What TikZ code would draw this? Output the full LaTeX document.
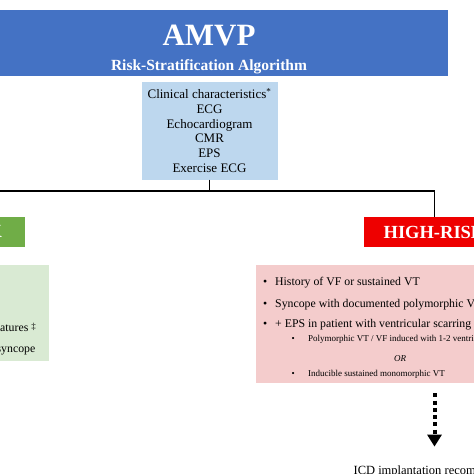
\documentclass[tikz,border=0pt]{standalone}
\usepackage{fontspec}
\setmainfont{Liberation Serif}
\usetikzlibrary{arrows.meta}

\definecolor{bannerblue}{HTML}{4472C4}
\definecolor{testblue}{HTML}{BDD7EE}
\definecolor{lowgreen}{HTML}{70AD47}
\definecolor{lowfill}{HTML}{D9EAD3}
\definecolor{highred}{HTML}{EE0000}
\definecolor{highfill}{HTML}{F4CCCC}

\begin{document}
\begin{tikzpicture}[x=1pt,y=-1pt,
		banner/.style={fill=bannerblue, minimum width=478pt, minimum height=66pt, inner sep=0pt},
		testbox/.style={fill=testblue, minimum width=136pt, minimum height=98pt, inner sep=0pt, align=center,
			font=\fontsize{13}{14.7}\selectfont},
		riskhead/.style={minimum width=142pt, minimum height=30pt, inner sep=0pt, text=white,
			font=\fontsize{18.5}{20}\selectfont\bfseries},
		riskbody/.style={inner sep=0pt},
		item/.style={anchor=base west, inner sep=0pt, font=\fontsize{11.8}{14}\selectfont},
		subitem/.style={anchor=base west, inner sep=0pt, font=\fontsize{9}{11}\selectfont},
		link/.style={line width=1.6pt},
		dotarrow/.style={line width=4pt, dash pattern=on 4pt off 3.3pt, -{Triangle[width=14pt,length=12pt]}}
	]
	\useasboundingbox (0,0) rectangle (474,474);
	\clip (0,0) rectangle (474,474);

	% title banner
	\node[banner] (banner) at (209,43) {};
	\node[anchor=base, inner sep=0pt, text=white, font=\fontsize{31}{31}\selectfont\bfseries] (title) at (209,45) {AMVP};
	\node[anchor=base, inner sep=0pt, text=white, font=\fontsize{15.5}{16}\selectfont\bfseries] (subtitle) at (209,70) {Risk-Stratification Algorithm};

	\node[testbox] (tests) at (209.5,130.5) {Clinical characteristics\textsuperscript{*}\\ECG\\Echocardiogram\\CMR\\EPS\\Exercise ECG};

	\node[riskhead, fill=lowgreen] (low) at (-46,232) {LOW-RISK};
	\node[riskhead, fill=highred] (high) at (434.5,232) {HIGH-RISK};

	% low risk
	\node[riskbody, fill=lowfill, minimum width=180pt, minimum height=96pt] (lowlist) at (-41,313) {};
	\node[item, anchor=base east] (lowa) at (36,331) {Absence of high-risk features {\fontsize{9}{9}\selectfont\raisebox{1.5pt}{‡}}};
	\node[item, anchor=base east] (lowb) at (35.5,352) {No unexplained syncope};

	% high risk
	\node[riskbody, fill=highfill, minimum width=357pt, minimum height=118pt] (highlist) at (434.5,324) {};
	\node[item] (higha) at (263,285.5) {\makebox[12pt][l]{\textbullet}History of VF or sustained VT};
	\node[item] (highb) at (263,307) {\makebox[12pt][l]{\textbullet}Syncope with documented polymorphic VT};
	\node[item] (highc) at (263,327) {\makebox[12pt][l]{\textbullet}+ EPS in patient with ventricular scarring};
	\node[subitem] (highc1) at (291.4,341.5) {\makebox[16.6pt][l]{\textbullet}Polymorphic VT / VF induced with 1-2 ventricular extrastimuli};
	\node[anchor=base, inner sep=0pt, font=\fontsize{9}{11}\selectfont\itshape] (highor) at (400,361) {OR};
	\node[subitem] (highc2) at (291.4,376) {\makebox[16.6pt][l]{\textbullet}Inducible sustained monomorphic VT};

	\node[anchor=base, inner sep=0pt, font=\fontsize{12.5}{14}\selectfont] (icd) at (434.5,474) {ICD implantation recommended};

	% connectors
	\coordinate (split) at (209.5,191);
	\draw[link] (tests.south) -- (split);
	\draw[link] (low.north) |- (split) -| (high.north);
	\draw[dotarrow, shorten <=10pt, shorten >=18.5pt] (highlist.south) -- (icd.north);
\end{tikzpicture}
\end{document}
